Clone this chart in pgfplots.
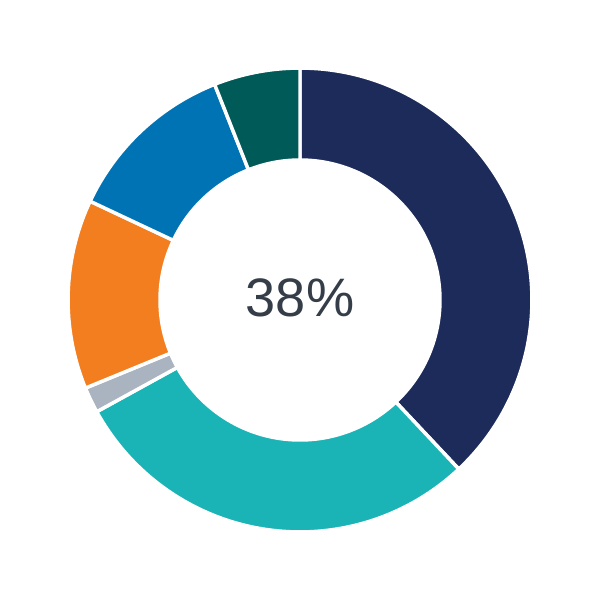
\documentclass[border=0pt]{standalone}
\usepackage{pgfplots}
\pgfplotsset{compat=1.18}
\usepackage{fontspec}
\setmainfont{Liberation Sans}
\definecolor{sc0}{HTML}{1C2B5A}
\definecolor{sc1}{HTML}{1AB3B6}
\definecolor{sc2}{HTML}{AAB3C0}
\definecolor{sc3}{HTML}{F37E20}
\definecolor{sc4}{HTML}{0073B4}
\definecolor{sc5}{HTML}{005A58}
\definecolor{txt}{HTML}{353D48}
\begin{document}
\begin{tikzpicture}
\begin{axis}[
  width=432pt, height=432pt, scale only axis,
  xmin=0, xmax=600, ymin=0, ymax=600,
  hide axis, clip=false,
]
\path (rel axis cs:0,0) rectangle (rel axis cs:1,1);
% slices: start and end in cumulative percent, clockwise from top
\addplot[
  scatter, only marks, mark=*, mark size=0pt,
  visualization depends on={\thisrow{start}\as\sstart},
  visualization depends on={\thisrow{end}\as\send},
  visualization depends on={\thisrow{c}\as\sc},
  scatter/@pre marker code/.code={%
    \pgfmathsetmacro\aone{90-3.6*\sstart}%
    \pgfmathsetmacro\atwo{90-3.6*\send}%
    \pgfmathtruncatemacro\ci{\sc}%
    \pgfscope
    \filldraw[fill=sc\ci, draw=white, line width=2.5pt, line join=miter]
      (\aone:167pt) arc[start angle=\aone, end angle=\atwo, radius=167pt]
      -- (\atwo:100.8pt) arc[start angle=\atwo, end angle=\aone, radius=100.8pt]
      -- cycle;
  },
  scatter/@post marker code/.code={\endpgfscope},
] table[x=x, y=y] {
x y start end c
300 300 0 38 0
300 300 38 67 1
300 300 67 68.8 2
300 300 68.8 82 3
300 300 82 94 4
300 300 94 100 5
};
\node[text=txt, font=\fontsize{39}{39}\selectfont, inner sep=0pt] at (axis cs:300,302) {38\%};
\end{axis}
\end{tikzpicture}
\end{document}
